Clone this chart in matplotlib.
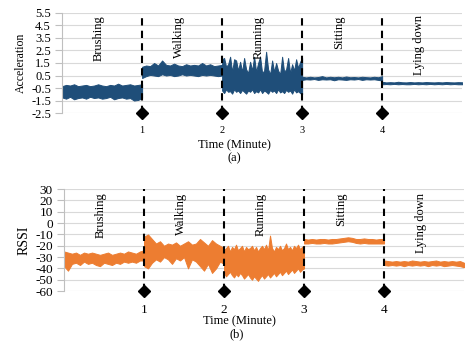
import matplotlib.pyplot as plt
import numpy as np

plt.rcParams['font.family'] = ['Liberation Serif', 'DejaVu Serif']

activities = ['Brushing', 'Walking', 'Running', 'Sitting', 'Lying down']
change_minutes = [1, 2, 3, 4]

# envelopes of the acceleration trace, one row per activity (running sampled finer)
acc_hi = [
    [-0.35, -0.25, -0.3, -0.2, -0.35, -0.3, -0.25, -0.35, -0.3, -0.2, -0.3, -0.35, -0.25, -0.3, -0.15, -0.3, -0.25, -0.2, -0.3, -0.25, -0.2],
    [1.2, 1.3, 1.25, 1.5, 1.3, 1.7, 1.35, 1.3, 1.45, 1.3, 1.25, 1.4, 1.3, 1.35, 1.3, 1.5, 1.3, 1.4, 1.25, 1.3, 1.35],
    [1.8, 1.9, 1.2, 1.4, 2.0, 0.8, 1.8, 1.7, 0.9, 1.6, 0.8, 1.9, 1.0, 0.7, 1.6, 0.9, 2.0, 0.8, 1.5, 2.0, 0.7,
     0.9, 2.4, 1.0, 0.6, 1.7, 0.8, 1.5, 0.9, 0.6, 2.0, 0.8, 1.0, 1.9, 0.7, 1.4, 0.9, 1.8, 1.1, 1.6, 1.9],
    [0.4, 0.35, 0.4, 0.35, 0.38, 0.45, 0.35, 0.4, 0.36, 0.4, 0.35, 0.42, 0.36, 0.38, 0.35, 0.4, 0.37, 0.35, 0.4, 0.36, 0.45],
    [0.0, -0.05, -0.03, -0.05, 0.0, -0.04, -0.05, -0.02, -0.05, -0.03, -0.05, -0.02, -0.04, -0.05, -0.03, -0.05, -0.02, -0.04, -0.05, -0.03, -0.04],
]
acc_lo = [
    [-1.25, -1.35, -1.2, -1.4, -1.3, -1.25, -1.35, -1.2, -1.3, -1.25, -1.35, -1.3, -1.2, -1.4, -1.3, -1.25, -1.35, -1.3, -1.5, -1.45, -1.3],
    [0.3, 0.45, 0.55, 0.5, 0.45, 0.6, 0.5, 0.55, 0.45, 0.5, 0.6, 0.5, 0.55, 0.5, 0.45, 0.55, 0.5, 0.55, 0.5, 0.45, 0.5],
    [-0.7, -0.9, -0.6, -0.8, -0.75, -0.95, -0.6, -0.8, -0.7, -0.9, -0.65, -0.8, -0.95, -0.7, -0.8, -0.6, -0.9, -0.75, -0.85, -0.6, -0.9,
     -0.7, -0.8, -0.95, -0.65, -0.8, -0.7, -0.9, -0.6, -0.85, -0.75, -0.9, -0.65, -0.8, -0.7, -0.95, -0.6, -0.85, -0.75, -0.9, -1.0],
    [0.15, 0.2, 0.18, 0.22, 0.15, 0.2, 0.18, 0.2, 0.12, 0.2, 0.18, 0.15, 0.2, 0.18, 0.22, 0.15, 0.2, 0.18, 0.2, 0.15, 0.1],
    [-0.2, -0.18, -0.2, -0.17, -0.2, -0.18, -0.2, -0.2, -0.17, -0.2, -0.18, -0.2, -0.17, -0.2, -0.18, -0.2, -0.17, -0.2, -0.18, -0.2, -0.2],
]

# envelopes of the RSSI trace
rssi_hi = [
    [-25, -26, -27, -26, -28, -26, -27, -26, -27, -28, -27, -26, -28, -27, -26, -27, -25, -26, -27, -25, -24],
    [-12, -10, -14, -18, -16, -20, -18, -19, -17, -20, -18, -16, -19, -18, -14, -17, -20, -15, -18, -20, -22],
    [-24, -22, -20, -25, -21, -23, -19, -24, -22, -20, -25, -21, -23, -22, -20, -24, -21, -25, -22, -20, -23,
     -19, -24, -11, -22, -25, -21, -23, -20, -24, -22, -18, -23, -21, -24, -20, -22, -19, -23, -21, -20],
    [-14, -14.5, -14, -14.5, -14, -14, -14.5, -14, -14, -13.5, -13, -12.5, -13, -14, -14, -13.5, -14, -14, -14.5, -14, -14],
    [-33, -33.5, -34, -33.5, -34, -33.5, -34, -33, -33.5, -34, -33.5, -34, -33.5, -33, -34, -33.5, -34, -33.5, -34, -33.5, -35],
]
rssi_lo = [
    [-38, -42, -36, -35, -37, -34, -36, -35, -37, -38, -35, -36, -37, -35, -36, -34, -35, -34, -35, -33, -33],
    [-38, -40, -35, -32, -34, -30, -32, -36, -31, -33, -30, -40, -32, -34, -38, -42, -36, -44, -40, -34, -36],
    [-44, -47, -45, -43, -46, -48, -45, -47, -44, -46, -49, -47, -45, -48, -50, -47, -49, -51, -48, -46, -49,
     -47, -45, -48, -46, -44, -47, -45, -43, -46, -44, -42, -45, -43, -41, -44, -42, -40, -43, -41, -40],
    [-18, -18, -17.5, -18, -18, -17.5, -18, -18, -17.5, -17, -16.5, -16, -16.5, -17.5, -18, -17.5, -18, -18, -18, -18, -18],
    [-37, -37.5, -37, -37.5, -37, -38, -37, -37.5, -37, -37.5, -37, -38, -37, -37.5, -37, -38, -37.5, -37, -37.5, -38, -39],
]

acc_ticks = [5.5, 4.5, 3.5, 2.5, 1.5, 0.5, -0.5, -1.5, -2.5]
rssi_ticks = [30, 20, 10, 0, -10, -20, -30, -40, -50, -60]


def panel(ax, hi, lo, color, ticks, ylabel, label_top, xfont, yfont, lfont):
    for k in range(len(activities)):
        t = np.linspace(k, k + 1, len(hi[k]))
        ax.fill_between(t, hi[k], lo[k], color=color, lw=0.7, zorder=2)
    ylo, yhi = min(ticks), max(ticks)
    ax.set_xlim(0, 5)
    ax.set_ylim(ylo, yhi)
    ax.set_yticks(ticks)
    ax.set_yticklabels([('%g' % v) for v in ticks], fontsize=yfont)
    ax.set_xticks(change_minutes)
    ax.set_xticklabels([str(m) for m in change_minutes], fontsize=xfont)
    ax.tick_params(axis='x', length=0, pad=9)
    ax.tick_params(axis='y', length=5, color='#bfbfbf', width=0.8, pad=3)
    ax.grid(axis='y', color='#d9d9d9', lw=0.8, zorder=0)
    for s in ['top', 'right', 'bottom']:
        ax.spines[s].set_visible(False)
    ax.spines['left'].set_color('#bfbfbf')
    ax.spines['left'].set_linewidth(0.8)
    for m in change_minutes:
        ax.plot([m, m], [ylo, yhi], '--k', lw=1.5, dashes=(3.5, 2.5), zorder=3)
        ax.plot(m, ylo, 'D', color='k', ms=6.5, clip_on=False, zorder=4)
    for k, name in enumerate(activities):
        ax.text(k + 0.46, label_top, name, rotation=90, ha='center', va='top',
                fontsize=9, zorder=5)
    ax.set_ylabel(ylabel, fontsize=lfont, labelpad=3)


fig = plt.figure(figsize=(4.74, 3.49), dpi=100)

ax1 = fig.add_axes([0.131, 0.676, 0.844, 0.287])
panel(ax1, acc_hi, acc_lo, '#1f4e79', acc_ticks, 'Acceleration', 5.3, 7.5, 9, 8.5)
fig.text(234 / 474, 1 - 145 / 349, 'Time (Minute)', ha='center', va='center', fontsize=9)
fig.text(234 / 474, 1 - 158 / 349, '(a)', ha='center', va='center', fontsize=9)

ax2 = fig.add_axes([0.135, 0.166, 0.844, 0.292])
panel(ax2, rssi_hi, rssi_lo, '#ed7d31', rssi_ticks, 'RSSI', 27, 9.5, 9.5, 10)
fig.text(239 / 474, 1 - 321 / 349, 'Time (Minute)', ha='center', va='center', fontsize=9)
fig.text(237 / 474, 1 - 334 / 349, '(b)', ha='center', va='center', fontsize=9)

fig.savefig('out.png', dpi=100)
